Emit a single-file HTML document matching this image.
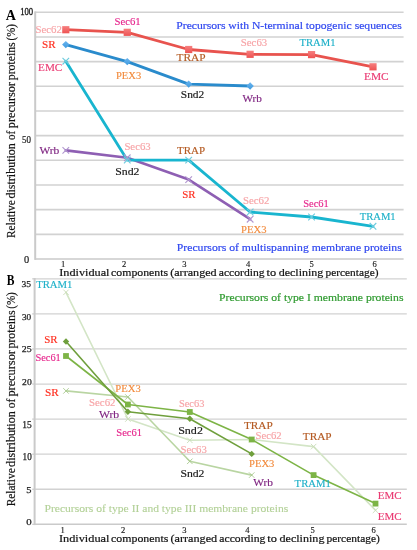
<!DOCTYPE html>
<html><head><meta charset="utf-8"><style>
html,body{margin:0;padding:0;background:#fff;}
svg{display:block;will-change:transform;}
text{font-family:"Liberation Serif", serif;}
</style></head><body>
<svg width="417" height="550" viewBox="0 0 417 550">
<defs>
<linearGradient id="gr" x1="0" y1="0" x2="0" y2="1"><stop offset="0" stop-color="#f68080"/><stop offset="1" stop-color="#ee5252"/></linearGradient>
<linearGradient id="gb" x1="0" y1="0" x2="0" y2="1"><stop offset="0" stop-color="#6ab4ee"/><stop offset="1" stop-color="#3f9be0"/></linearGradient>
</defs>
<rect width="417" height="550" fill="#fff"/>
<line x1="35.20" y1="234.33" x2="403.60" y2="234.33" stroke="#d2d2d2" stroke-width="1.6"/>
<line x1="35.20" y1="209.66" x2="403.60" y2="209.66" stroke="#d2d2d2" stroke-width="1.6"/>
<line x1="35.20" y1="184.99" x2="403.60" y2="184.99" stroke="#d2d2d2" stroke-width="1.6"/>
<line x1="35.20" y1="160.32" x2="403.60" y2="160.32" stroke="#d2d2d2" stroke-width="1.6"/>
<line x1="35.20" y1="135.65" x2="403.60" y2="135.65" stroke="#d2d2d2" stroke-width="1.6"/>
<line x1="35.20" y1="110.98" x2="403.60" y2="110.98" stroke="#d2d2d2" stroke-width="1.6"/>
<line x1="35.20" y1="86.31" x2="403.60" y2="86.31" stroke="#d2d2d2" stroke-width="1.6"/>
<line x1="35.20" y1="61.64" x2="403.60" y2="61.64" stroke="#d2d2d2" stroke-width="1.6"/>
<line x1="35.20" y1="36.97" x2="403.60" y2="36.97" stroke="#d2d2d2" stroke-width="1.6"/>
<line x1="35.20" y1="12.30" x2="403.60" y2="12.30" stroke="#d2d2d2" stroke-width="1.6"/>
<line x1="35.20" y1="259.00" x2="403.60" y2="259.00" stroke="#cacaca" stroke-width="1.7"/>
<line x1="35.20" y1="11.40" x2="35.20" y2="259.90" stroke="#cacaca" stroke-width="2"/>
<line x1="34.60" y1="489.23" x2="406.80" y2="489.23" stroke="#d2d2d2" stroke-width="1.3"/>
<line x1="34.60" y1="454.17" x2="406.80" y2="454.17" stroke="#d2d2d2" stroke-width="1.3"/>
<line x1="34.60" y1="419.10" x2="406.80" y2="419.10" stroke="#d2d2d2" stroke-width="1.3"/>
<line x1="34.60" y1="384.04" x2="406.80" y2="384.04" stroke="#d2d2d2" stroke-width="1.3"/>
<line x1="34.60" y1="348.97" x2="406.80" y2="348.97" stroke="#d2d2d2" stroke-width="1.3"/>
<line x1="34.60" y1="313.91" x2="406.80" y2="313.91" stroke="#d2d2d2" stroke-width="1.3"/>
<line x1="34.60" y1="278.84" x2="406.80" y2="278.84" stroke="#d2d2d2" stroke-width="1.3"/>
<line x1="34.60" y1="524.30" x2="406.80" y2="524.30" stroke="#cacaca" stroke-width="1.5"/>
<line x1="34.60" y1="278.04" x2="34.60" y2="525.10" stroke="#cacaca" stroke-width="2"/>
<polyline points="65.80,150.40 127.24,157.80 188.68,179.60 250.12,219.20" fill="none" stroke="#8e5fb3" stroke-width="2.6" stroke-linejoin="round" stroke-linecap="round"/>
<polyline points="65.80,61.20 127.24,160.00 188.68,160.10 250.12,212.00 311.56,217.00 373.00,226.30" fill="none" stroke="#19b5cf" stroke-width="2.8" stroke-linejoin="round" stroke-linecap="round"/>
<polyline points="65.80,44.60 127.24,61.60 188.68,84.10 250.12,86.00" fill="none" stroke="#2a8bcc" stroke-width="2.9" stroke-linejoin="round" stroke-linecap="round"/>
<polyline points="65.80,29.70 127.24,32.30 188.68,49.50 250.12,54.30 311.56,54.60 373.00,66.80" fill="none" stroke="#e8534e" stroke-width="2.8" stroke-linejoin="round" stroke-linecap="round"/>
<path d="M62.50,147.10L69.10,153.70M69.10,147.10L62.50,153.70" stroke="#b196cf" stroke-width="1.1" fill="none"/>
<path d="M123.94,154.50L130.54,161.10M130.54,154.50L123.94,161.10" stroke="#b196cf" stroke-width="1.1" fill="none"/>
<path d="M185.38,176.30L191.98,182.90M191.98,176.30L185.38,182.90" stroke="#b196cf" stroke-width="1.1" fill="none"/>
<path d="M246.82,215.90L253.42,222.50M253.42,215.90L246.82,222.50" stroke="#b196cf" stroke-width="1.1" fill="none"/>
<path d="M62.50,57.90L69.10,64.50M69.10,57.90L62.50,64.50" stroke="#6ccbdd" stroke-width="1.1" fill="none"/>
<path d="M123.94,156.70L130.54,163.30M130.54,156.70L123.94,163.30" stroke="#6ccbdd" stroke-width="1.1" fill="none"/>
<path d="M185.38,156.80L191.98,163.40M191.98,156.80L185.38,163.40" stroke="#6ccbdd" stroke-width="1.1" fill="none"/>
<path d="M246.82,208.70L253.42,215.30M253.42,208.70L246.82,215.30" stroke="#6ccbdd" stroke-width="1.1" fill="none"/>
<path d="M308.26,213.70L314.86,220.30M314.86,213.70L308.26,220.30" stroke="#6ccbdd" stroke-width="1.1" fill="none"/>
<path d="M369.70,223.00L376.30,229.60M376.30,223.00L369.70,229.60" stroke="#6ccbdd" stroke-width="1.1" fill="none"/>
<polygon points="65.80,40.90 69.50,44.60 65.80,48.30 62.10,44.60" fill="url(#gb)"/>
<polygon points="127.24,57.90 130.94,61.60 127.24,65.30 123.54,61.60" fill="url(#gb)"/>
<polygon points="188.68,80.40 192.38,84.10 188.68,87.80 184.98,84.10" fill="url(#gb)"/>
<polygon points="250.12,82.30 253.82,86.00 250.12,89.70 246.42,86.00" fill="url(#gb)"/>
<rect x="62.20" y="26.10" width="7.2" height="7.2" fill="url(#gr)"/>
<rect x="123.64" y="28.70" width="7.2" height="7.2" fill="url(#gr)"/>
<rect x="185.08" y="45.90" width="7.2" height="7.2" fill="url(#gr)"/>
<rect x="246.52" y="50.70" width="7.2" height="7.2" fill="url(#gr)"/>
<rect x="307.96" y="51.00" width="7.2" height="7.2" fill="url(#gr)"/>
<rect x="369.40" y="63.20" width="7.2" height="7.2" fill="url(#gr)"/>
<polyline points="66.00,292.30 127.90,419.00 189.80,440.30 251.70,439.50 313.60,446.60 375.50,510.30" fill="none" stroke="#d3e5c6" stroke-width="1.6" stroke-linejoin="round" stroke-linecap="round"/>
<polyline points="66.00,390.90 127.90,397.00 189.80,461.30 251.70,475.10" fill="none" stroke="#b9d5a2" stroke-width="1.6" stroke-linejoin="round" stroke-linecap="round"/>
<path d="M63.25,289.55L68.75,295.05M68.75,289.55L63.25,295.05" stroke="#c9dcb8" stroke-width="0.9" fill="none"/>
<path d="M125.15,416.25L130.65,421.75M130.65,416.25L125.15,421.75" stroke="#c9dcb8" stroke-width="0.9" fill="none"/>
<path d="M187.05,437.55L192.55,443.05M192.55,437.55L187.05,443.05" stroke="#c9dcb8" stroke-width="0.9" fill="none"/>
<path d="M248.95,436.75L254.45,442.25M254.45,436.75L248.95,442.25" stroke="#c9dcb8" stroke-width="0.9" fill="none"/>
<path d="M310.85,443.85L316.35,449.35M316.35,443.85L310.85,449.35" stroke="#c9dcb8" stroke-width="0.9" fill="none"/>
<path d="M372.75,507.55L378.25,513.05M378.25,507.55L372.75,513.05" stroke="#c9dcb8" stroke-width="0.9" fill="none"/>
<path d="M63.25,388.15L68.75,393.65M68.75,388.15L63.25,393.65" stroke="#a9c98f" stroke-width="0.9" fill="none"/>
<path d="M125.15,394.25L130.65,399.75M130.65,394.25L125.15,399.75" stroke="#a9c98f" stroke-width="0.9" fill="none"/>
<path d="M187.05,458.55L192.55,464.05M192.55,458.55L187.05,464.05" stroke="#a9c98f" stroke-width="0.9" fill="none"/>
<path d="M248.95,472.35L254.45,477.85M254.45,472.35L248.95,477.85" stroke="#a9c98f" stroke-width="0.9" fill="none"/>
<polyline points="66.00,356.00 127.90,404.50 189.80,412.00 251.70,439.50 313.60,475.10 375.50,503.60" fill="none" stroke="#7db446" stroke-width="1.6" stroke-linejoin="round" stroke-linecap="round"/>
<polyline points="66.00,341.50 127.90,411.70 189.80,418.70 251.70,453.90" fill="none" stroke="#6f9f3c" stroke-width="1.6" stroke-linejoin="round" stroke-linecap="round"/>
<rect x="63.10" y="353.10" width="5.8" height="5.8" fill="#7db446"/>
<rect x="125.00" y="401.60" width="5.8" height="5.8" fill="#7db446"/>
<rect x="186.90" y="409.10" width="5.8" height="5.8" fill="#7db446"/>
<rect x="248.80" y="436.60" width="5.8" height="5.8" fill="#7db446"/>
<rect x="310.70" y="472.20" width="5.8" height="5.8" fill="#7db446"/>
<rect x="372.60" y="500.70" width="5.8" height="5.8" fill="#7db446"/>
<polygon points="66.00,338.30 69.20,341.50 66.00,344.70 62.80,341.50" fill="#6f9f3c"/>
<polygon points="127.90,408.50 131.10,411.70 127.90,414.90 124.70,411.70" fill="#6f9f3c"/>
<polygon points="189.80,415.50 193.00,418.70 189.80,421.90 186.60,418.70" fill="#6f9f3c"/>
<polygon points="251.70,450.70 254.90,453.90 251.70,457.10 248.50,453.90" fill="#6f9f3c"/>
<text x="35.50" y="33.00" font-size="11.1" fill="#f7a3a6" font-family='"Liberation Serif", serif' font-weight="normal" text-anchor="start" textLength="26.40" lengthAdjust="spacingAndGlyphs" stroke="#f7a3a6" stroke-width="0.15">Sec62</text>
<text x="114.50" y="24.80" font-size="11.1" fill="#e6268c" font-family='"Liberation Serif", serif' font-weight="normal" text-anchor="start" textLength="26.20" lengthAdjust="spacingAndGlyphs" stroke="#e6268c" stroke-width="0.15">Sec61</text>
<text x="42.10" y="48.20" font-size="11.1" fill="#ff2b1c" font-family='"Liberation Serif", serif' font-weight="normal" text-anchor="start" textLength="13.60" lengthAdjust="spacingAndGlyphs" stroke="#ff2b1c" stroke-width="0.15">SR</text>
<text x="38.10" y="70.60" font-size="11.1" fill="#ea3b73" font-family='"Liberation Serif", serif' font-weight="normal" text-anchor="start" textLength="24.20" lengthAdjust="spacingAndGlyphs" stroke="#ea3b73" stroke-width="0.15">EMC</text>
<text x="116.00" y="79.00" font-size="11.1" fill="#f28b3d" font-family='"Liberation Serif", serif' font-weight="normal" text-anchor="start" textLength="25.20" lengthAdjust="spacingAndGlyphs" stroke="#f28b3d" stroke-width="0.15">PEX3</text>
<text x="176.50" y="60.80" font-size="11.1" fill="#b45a22" font-family='"Liberation Serif", serif' font-weight="normal" text-anchor="start" textLength="29.00" lengthAdjust="spacingAndGlyphs" stroke="#b45a22" stroke-width="0.15">TRAP</text>
<text x="180.80" y="98.00" font-size="10.8" fill="#141414" font-family='"Liberation Sans", sans-serif' font-weight="normal" text-anchor="start" textLength="23.50" lengthAdjust="spacingAndGlyphs" stroke="#141414" stroke-width="0.15">Snd2</text>
<text x="240.80" y="45.50" font-size="11.1" fill="#f7a3a6" font-family='"Liberation Serif", serif' font-weight="normal" text-anchor="start" textLength="26.40" lengthAdjust="spacingAndGlyphs" stroke="#f7a3a6" stroke-width="0.15">Sec63</text>
<text x="242.50" y="101.90" font-size="11.1" fill="#7c1f7e" font-family='"Liberation Serif", serif' font-weight="normal" text-anchor="start" textLength="19.40" lengthAdjust="spacingAndGlyphs" stroke="#7c1f7e" stroke-width="0.15">Wrb</text>
<text x="299.50" y="45.80" font-size="11.1" fill="#1fb1c9" font-family='"Liberation Serif", serif' font-weight="normal" text-anchor="start" textLength="36.00" lengthAdjust="spacingAndGlyphs" stroke="#1fb1c9" stroke-width="0.15">TRAM1</text>
<text x="363.90" y="79.60" font-size="11.1" fill="#ea3b73" font-family='"Liberation Serif", serif' font-weight="normal" text-anchor="start" textLength="24.80" lengthAdjust="spacingAndGlyphs" stroke="#ea3b73" stroke-width="0.15">EMC</text>
<text x="39.50" y="153.50" font-size="11.1" fill="#7c1f7e" font-family='"Liberation Serif", serif' font-weight="normal" text-anchor="start" textLength="19.80" lengthAdjust="spacingAndGlyphs" stroke="#7c1f7e" stroke-width="0.15">Wrb</text>
<text x="124.40" y="149.50" font-size="11.1" fill="#f7a3a6" font-family='"Liberation Serif", serif' font-weight="normal" text-anchor="start" textLength="26.30" lengthAdjust="spacingAndGlyphs" stroke="#f7a3a6" stroke-width="0.15">Sec63</text>
<text x="115.30" y="175.00" font-size="10.8" fill="#141414" font-family='"Liberation Sans", sans-serif' font-weight="normal" text-anchor="start" textLength="24.20" lengthAdjust="spacingAndGlyphs" stroke="#141414" stroke-width="0.15">Snd2</text>
<text x="177.10" y="154.40" font-size="11.1" fill="#b45a22" font-family='"Liberation Serif", serif' font-weight="normal" text-anchor="start" textLength="28.00" lengthAdjust="spacingAndGlyphs" stroke="#b45a22" stroke-width="0.15">TRAP</text>
<text x="182.20" y="197.90" font-size="11.1" fill="#ff2b1c" font-family='"Liberation Serif", serif' font-weight="normal" text-anchor="start" textLength="13.30" lengthAdjust="spacingAndGlyphs" stroke="#ff2b1c" stroke-width="0.15">SR</text>
<text x="242.90" y="203.70" font-size="11.1" fill="#f7a3a6" font-family='"Liberation Serif", serif' font-weight="normal" text-anchor="start" textLength="26.50" lengthAdjust="spacingAndGlyphs" stroke="#f7a3a6" stroke-width="0.15">Sec62</text>
<text x="241.00" y="232.50" font-size="11.1" fill="#f28b3d" font-family='"Liberation Serif", serif' font-weight="normal" text-anchor="start" textLength="25.50" lengthAdjust="spacingAndGlyphs" stroke="#f28b3d" stroke-width="0.15">PEX3</text>
<text x="303.20" y="207.00" font-size="11.1" fill="#e6268c" font-family='"Liberation Serif", serif' font-weight="normal" text-anchor="start" textLength="25.70" lengthAdjust="spacingAndGlyphs" stroke="#e6268c" stroke-width="0.15">Sec61</text>
<text x="359.70" y="220.40" font-size="11.1" fill="#1fb1c9" font-family='"Liberation Serif", serif' font-weight="normal" text-anchor="start" textLength="36.00" lengthAdjust="spacingAndGlyphs" stroke="#1fb1c9" stroke-width="0.15">TRAM1</text>
<text x="36.20" y="288.20" font-size="11.1" fill="#1fb1c9" font-family='"Liberation Serif", serif' font-weight="normal" text-anchor="start" textLength="36.30" lengthAdjust="spacingAndGlyphs" stroke="#1fb1c9" stroke-width="0.15">TRAM1</text>
<text x="44.30" y="342.80" font-size="11.1" fill="#ff2b1c" font-family='"Liberation Serif", serif' font-weight="normal" text-anchor="start" textLength="13.30" lengthAdjust="spacingAndGlyphs" stroke="#ff2b1c" stroke-width="0.15">SR</text>
<text x="35.40" y="360.70" font-size="11.1" fill="#e6268c" font-family='"Liberation Serif", serif' font-weight="normal" text-anchor="start" textLength="25.40" lengthAdjust="spacingAndGlyphs" stroke="#e6268c" stroke-width="0.15">Sec61</text>
<text x="45.10" y="395.90" font-size="11.1" fill="#ff2b1c" font-family='"Liberation Serif", serif' font-weight="normal" text-anchor="start" textLength="13.70" lengthAdjust="spacingAndGlyphs" stroke="#ff2b1c" stroke-width="0.15">SR</text>
<text x="115.30" y="392.00" font-size="11.1" fill="#f28b3d" font-family='"Liberation Serif", serif' font-weight="normal" text-anchor="start" textLength="25.50" lengthAdjust="spacingAndGlyphs" stroke="#f28b3d" stroke-width="0.15">PEX3</text>
<text x="89.00" y="406.00" font-size="11.1" fill="#f7a3a6" font-family='"Liberation Serif", serif' font-weight="normal" text-anchor="start" textLength="26.50" lengthAdjust="spacingAndGlyphs" stroke="#f7a3a6" stroke-width="0.15">Sec62</text>
<text x="99.00" y="417.50" font-size="11.1" fill="#7c1f7e" font-family='"Liberation Serif", serif' font-weight="normal" text-anchor="start" textLength="20.20" lengthAdjust="spacingAndGlyphs" stroke="#7c1f7e" stroke-width="0.15">Wrb</text>
<text x="116.30" y="435.70" font-size="11.1" fill="#e6268c" font-family='"Liberation Serif", serif' font-weight="normal" text-anchor="start" textLength="25.80" lengthAdjust="spacingAndGlyphs" stroke="#e6268c" stroke-width="0.15">Sec61</text>
<text x="178.90" y="406.50" font-size="11.1" fill="#f7a3a6" font-family='"Liberation Serif", serif' font-weight="normal" text-anchor="start" textLength="25.50" lengthAdjust="spacingAndGlyphs" stroke="#f7a3a6" stroke-width="0.15">Sec63</text>
<text x="178.20" y="433.80" font-size="10.8" fill="#141414" font-family='"Liberation Sans", sans-serif' font-weight="normal" text-anchor="start" textLength="24.70" lengthAdjust="spacingAndGlyphs" stroke="#141414" stroke-width="0.15">Snd2</text>
<text x="180.40" y="453.00" font-size="11.1" fill="#f7a3a6" font-family='"Liberation Serif", serif' font-weight="normal" text-anchor="start" textLength="26.40" lengthAdjust="spacingAndGlyphs" stroke="#f7a3a6" stroke-width="0.15">Sec63</text>
<text x="180.40" y="476.70" font-size="10.8" fill="#141414" font-family='"Liberation Sans", sans-serif' font-weight="normal" text-anchor="start" textLength="24.00" lengthAdjust="spacingAndGlyphs" stroke="#141414" stroke-width="0.15">Snd2</text>
<text x="243.90" y="429.40" font-size="11.1" fill="#b45a22" font-family='"Liberation Serif", serif' font-weight="normal" text-anchor="start" textLength="28.80" lengthAdjust="spacingAndGlyphs" stroke="#b45a22" stroke-width="0.15">TRAP</text>
<text x="255.50" y="438.50" font-size="11.1" fill="#f7a3a6" font-family='"Liberation Serif", serif' font-weight="normal" text-anchor="start" textLength="26.10" lengthAdjust="spacingAndGlyphs" stroke="#f7a3a6" stroke-width="0.15">Sec62</text>
<text x="249.00" y="466.80" font-size="11.1" fill="#f28b3d" font-family='"Liberation Serif", serif' font-weight="normal" text-anchor="start" textLength="25.40" lengthAdjust="spacingAndGlyphs" stroke="#f28b3d" stroke-width="0.15">PEX3</text>
<text x="253.30" y="485.60" font-size="11.1" fill="#7c1f7e" font-family='"Liberation Serif", serif' font-weight="normal" text-anchor="start" textLength="19.70" lengthAdjust="spacingAndGlyphs" stroke="#7c1f7e" stroke-width="0.15">Wrb</text>
<text x="302.80" y="440.10" font-size="11.1" fill="#b45a22" font-family='"Liberation Serif", serif' font-weight="normal" text-anchor="start" textLength="28.80" lengthAdjust="spacingAndGlyphs" stroke="#b45a22" stroke-width="0.15">TRAP</text>
<text x="294.60" y="487.00" font-size="11.1" fill="#1fb1c9" font-family='"Liberation Serif", serif' font-weight="normal" text-anchor="start" textLength="36.30" lengthAdjust="spacingAndGlyphs" stroke="#1fb1c9" stroke-width="0.15">TRAM1</text>
<text x="377.80" y="499.40" font-size="11.1" fill="#ea3b73" font-family='"Liberation Serif", serif' font-weight="normal" text-anchor="start" textLength="23.90" lengthAdjust="spacingAndGlyphs" stroke="#ea3b73" stroke-width="0.15">EMC</text>
<text x="377.80" y="520.40" font-size="11.1" fill="#ea3b73" font-family='"Liberation Serif", serif' font-weight="normal" text-anchor="start" textLength="23.90" lengthAdjust="spacingAndGlyphs" stroke="#ea3b73" stroke-width="0.15">EMC</text>
<text x="176.30" y="29.20" font-size="11.4" fill="#3048f0" font-family='"Liberation Serif", serif' font-weight="normal" text-anchor="start" textLength="225.50" lengthAdjust="spacingAndGlyphs" stroke="#3048f0" stroke-width="0.2">Precursors with N-terminal topogenic sequences</text>
<text x="176.80" y="250.80" font-size="11.4" fill="#3048f0" font-family='"Liberation Serif", serif' font-weight="normal" text-anchor="start" textLength="225.00" lengthAdjust="spacingAndGlyphs" stroke="#3048f0" stroke-width="0.2">Precursors of multispanning membrane proteins</text>
<text x="219.10" y="301.10" font-size="11.4" fill="#2f9b30" font-family='"Liberation Serif", serif' font-weight="normal" text-anchor="start" textLength="184.40" lengthAdjust="spacingAndGlyphs" stroke="#2f9b30" stroke-width="0.2">Precursors of type I membrane proteins</text>
<text x="44.50" y="512.30" font-size="11.4" fill="#b3d198" font-family='"Liberation Serif", serif' font-weight="normal" text-anchor="start" textLength="243.70" lengthAdjust="spacingAndGlyphs" stroke="#b3d198" stroke-width="0.12">Precursors of type II and type III membrane proteins</text>
<text x="5.70" y="19.70" font-size="14.5" fill="#000" font-family='"Liberation Serif", serif' font-weight="bold" text-anchor="start" textLength="10.20" lengthAdjust="spacingAndGlyphs">A</text>
<text x="6.70" y="284.60" font-size="14.5" fill="#000" font-family='"Liberation Serif", serif' font-weight="bold" text-anchor="start" textLength="7.70" lengthAdjust="spacingAndGlyphs">B</text>
<text x="20.20" y="14.50" font-size="9.9" fill="#1a1a1a" font-family='"Liberation Serif", serif' font-weight="normal" text-anchor="start" textLength="13.00" lengthAdjust="spacingAndGlyphs" stroke="#1a1a1a" stroke-width="0.3">100</text>
<text x="22.00" y="143.30" font-size="9.4" fill="#222" font-family='"Liberation Serif", serif' font-weight="normal" text-anchor="start" textLength="9.00" lengthAdjust="spacingAndGlyphs" stroke="#222" stroke-width="0.2">50</text>
<text x="24.00" y="262.90" font-size="10.2" fill="#222" font-family='"Liberation Serif", serif' font-weight="normal" text-anchor="start" textLength="5.20" lengthAdjust="spacingAndGlyphs" stroke="#222" stroke-width="0.2">0</text>
<text x="21.60" y="287.40" font-size="9.0" fill="#1e1e1e" font-family='"Liberation Sans", sans-serif' font-weight="normal" text-anchor="start" textLength="9.50" lengthAdjust="spacingAndGlyphs" stroke="#1e1e1e" stroke-width="0.25">35</text>
<text x="21.90" y="319.50" font-size="9.0" fill="#1e1e1e" font-family='"Liberation Sans", sans-serif' font-weight="normal" text-anchor="start" textLength="9.20" lengthAdjust="spacingAndGlyphs" stroke="#1e1e1e" stroke-width="0.25">30</text>
<text x="21.80" y="352.00" font-size="9.0" fill="#1e1e1e" font-family='"Liberation Sans", sans-serif' font-weight="normal" text-anchor="start" textLength="9.90" lengthAdjust="spacingAndGlyphs" stroke="#1e1e1e" stroke-width="0.25">25</text>
<text x="22.10" y="384.70" font-size="9.0" fill="#1e1e1e" font-family='"Liberation Sans", sans-serif' font-weight="normal" text-anchor="start" textLength="9.60" lengthAdjust="spacingAndGlyphs" stroke="#1e1e1e" stroke-width="0.25">20</text>
<text x="22.30" y="428.00" font-size="9.6" fill="#1e1e1e" font-family='"Liberation Serif", serif' font-weight="normal" text-anchor="start" textLength="9.40" lengthAdjust="spacingAndGlyphs" stroke="#1e1e1e" stroke-width="0.25">15</text>
<text x="22.60" y="460.40" font-size="9.4" fill="#1e1e1e" font-family='"Liberation Serif", serif' font-weight="normal" text-anchor="start" textLength="9.10" lengthAdjust="spacingAndGlyphs" stroke="#1e1e1e" stroke-width="0.25">10</text>
<text x="26.20" y="493.00" font-size="9.0" fill="#1e1e1e" font-family='"Liberation Serif", serif' font-weight="normal" text-anchor="start" textLength="5.20" lengthAdjust="spacingAndGlyphs" stroke="#1e1e1e" stroke-width="0.25">5</text>
<text x="26.20" y="524.90" font-size="8.6" fill="#1e1e1e" font-family='"Liberation Serif", serif' font-weight="normal" text-anchor="start" textLength="5.40" lengthAdjust="spacingAndGlyphs" stroke="#1e1e1e" stroke-width="0.25">0</text>
<line x1="32.20" y1="524.30" x2="34.60" y2="524.30" stroke="#cacaca" stroke-width="1.2"/>
<line x1="32.20" y1="489.23" x2="34.60" y2="489.23" stroke="#cacaca" stroke-width="1.2"/>
<line x1="32.20" y1="454.17" x2="34.60" y2="454.17" stroke="#cacaca" stroke-width="1.2"/>
<line x1="32.20" y1="419.10" x2="34.60" y2="419.10" stroke="#cacaca" stroke-width="1.2"/>
<line x1="32.20" y1="384.04" x2="34.60" y2="384.04" stroke="#cacaca" stroke-width="1.2"/>
<line x1="32.20" y1="348.97" x2="34.60" y2="348.97" stroke="#cacaca" stroke-width="1.2"/>
<line x1="32.20" y1="313.91" x2="34.60" y2="313.91" stroke="#cacaca" stroke-width="1.2"/>
<line x1="32.20" y1="278.84" x2="34.60" y2="278.84" stroke="#cacaca" stroke-width="1.2"/>
<text x="63.20" y="267.40" font-size="8.5" fill="#222" font-family='"Liberation Serif", serif' font-weight="normal" text-anchor="middle" stroke="#222" stroke-width="0.15">1</text>
<text x="124.00" y="267.40" font-size="8.5" fill="#222" font-family='"Liberation Serif", serif' font-weight="normal" text-anchor="middle" stroke="#222" stroke-width="0.15">2</text>
<text x="184.40" y="267.40" font-size="8.5" fill="#222" font-family='"Liberation Serif", serif' font-weight="normal" text-anchor="middle" stroke="#222" stroke-width="0.15">3</text>
<text x="248.00" y="267.40" font-size="8.5" fill="#222" font-family='"Liberation Serif", serif' font-weight="normal" text-anchor="middle" stroke="#222" stroke-width="0.15">4</text>
<text x="311.50" y="267.40" font-size="8.5" fill="#222" font-family='"Liberation Serif", serif' font-weight="normal" text-anchor="middle" stroke="#222" stroke-width="0.15">5</text>
<text x="374.70" y="267.40" font-size="8.5" fill="#222" font-family='"Liberation Serif", serif' font-weight="normal" text-anchor="middle" stroke="#222" stroke-width="0.15">6</text>
<text x="62.60" y="532.80" font-size="8.5" fill="#222" font-family='"Liberation Serif", serif' font-weight="normal" text-anchor="middle" stroke="#222" stroke-width="0.15">1</text>
<text x="123.00" y="532.80" font-size="8.5" fill="#222" font-family='"Liberation Serif", serif' font-weight="normal" text-anchor="middle" stroke="#222" stroke-width="0.15">2</text>
<text x="184.40" y="532.80" font-size="8.5" fill="#222" font-family='"Liberation Serif", serif' font-weight="normal" text-anchor="middle" stroke="#222" stroke-width="0.15">3</text>
<text x="247.40" y="532.80" font-size="8.5" fill="#222" font-family='"Liberation Serif", serif' font-weight="normal" text-anchor="middle" stroke="#222" stroke-width="0.15">4</text>
<text x="312.60" y="532.80" font-size="8.5" fill="#222" font-family='"Liberation Serif", serif' font-weight="normal" text-anchor="middle" stroke="#222" stroke-width="0.15">5</text>
<text x="373.50" y="532.80" font-size="8.5" fill="#222" font-family='"Liberation Serif", serif' font-weight="normal" text-anchor="middle" stroke="#222" stroke-width="0.15">6</text>
<text x="59.20" y="276.00" font-size="11.3" fill="#111" font-family='"Liberation Serif", serif' font-weight="normal" text-anchor="start" textLength="50.30" lengthAdjust="spacingAndGlyphs" stroke="#111" stroke-width="0.2">Individual</text>
<text x="111.10" y="276.00" font-size="11.3" fill="#111" font-family='"Liberation Serif", serif' font-weight="normal" text-anchor="start" textLength="57.00" lengthAdjust="spacingAndGlyphs" stroke="#111" stroke-width="0.2">components</text>
<text x="170.20" y="276.00" font-size="11.3" fill="#111" font-family='"Liberation Serif", serif' font-weight="normal" text-anchor="start" textLength="46.50" lengthAdjust="spacingAndGlyphs" stroke="#111" stroke-width="0.2">(arranged</text>
<text x="218.80" y="276.00" font-size="11.3" fill="#111" font-family='"Liberation Serif", serif' font-weight="normal" text-anchor="start" textLength="45.80" lengthAdjust="spacingAndGlyphs" stroke="#111" stroke-width="0.2">according</text>
<text x="266.50" y="276.00" font-size="11.3" fill="#111" font-family='"Liberation Serif", serif' font-weight="normal" text-anchor="start" textLength="9.60" lengthAdjust="spacingAndGlyphs" stroke="#111" stroke-width="0.2">to</text>
<text x="278.70" y="276.00" font-size="11.3" fill="#111" font-family='"Liberation Serif", serif' font-weight="normal" text-anchor="start" textLength="44.70" lengthAdjust="spacingAndGlyphs" stroke="#111" stroke-width="0.2">declining</text>
<text x="325.50" y="276.00" font-size="11.3" fill="#111" font-family='"Liberation Serif", serif' font-weight="normal" text-anchor="start" textLength="53.00" lengthAdjust="spacingAndGlyphs" stroke="#111" stroke-width="0.2">percentage)</text>
<text x="58.90" y="542.40" font-size="11.3" fill="#111" font-family='"Liberation Serif", serif' font-weight="normal" text-anchor="start" textLength="50.55" lengthAdjust="spacingAndGlyphs" stroke="#111" stroke-width="0.2">Individual</text>
<text x="111.06" y="542.40" font-size="11.3" fill="#111" font-family='"Liberation Serif", serif' font-weight="normal" text-anchor="start" textLength="57.28" lengthAdjust="spacingAndGlyphs" stroke="#111" stroke-width="0.2">components</text>
<text x="170.46" y="542.40" font-size="11.3" fill="#111" font-family='"Liberation Serif", serif' font-weight="normal" text-anchor="start" textLength="46.73" lengthAdjust="spacingAndGlyphs" stroke="#111" stroke-width="0.2">(arranged</text>
<text x="219.30" y="542.40" font-size="11.3" fill="#111" font-family='"Liberation Serif", serif' font-weight="normal" text-anchor="start" textLength="46.03" lengthAdjust="spacingAndGlyphs" stroke="#111" stroke-width="0.2">according</text>
<text x="267.24" y="542.40" font-size="11.3" fill="#111" font-family='"Liberation Serif", serif' font-weight="normal" text-anchor="start" textLength="9.64" lengthAdjust="spacingAndGlyphs" stroke="#111" stroke-width="0.2">to</text>
<text x="279.50" y="542.40" font-size="11.3" fill="#111" font-family='"Liberation Serif", serif' font-weight="normal" text-anchor="start" textLength="44.92" lengthAdjust="spacingAndGlyphs" stroke="#111" stroke-width="0.2">declining</text>
<text x="326.54" y="542.40" font-size="11.3" fill="#111" font-family='"Liberation Serif", serif' font-weight="normal" text-anchor="start" textLength="53.26" lengthAdjust="spacingAndGlyphs" stroke="#111" stroke-width="0.2">percentage)</text>
<text x="0.00" y="0.00" font-size="11.5" fill="#111" font-family='"Liberation Serif", serif' font-weight="normal" text-anchor="start" textLength="37.60" lengthAdjust="spacingAndGlyphs" stroke="#111" stroke-width="0.18" transform="translate(14.6,237.90) rotate(-90)">Relative</text>
<text x="0.00" y="0.00" font-size="11.5" fill="#111" font-family='"Liberation Serif", serif' font-weight="normal" text-anchor="start" textLength="55.30" lengthAdjust="spacingAndGlyphs" stroke="#111" stroke-width="0.18" transform="translate(14.6,198.50) rotate(-90)">distribution</text>
<text x="0.00" y="0.00" font-size="11.5" fill="#111" font-family='"Liberation Serif", serif' font-weight="normal" text-anchor="start" textLength="9.20" lengthAdjust="spacingAndGlyphs" stroke="#111" stroke-width="0.18" transform="translate(14.6,139.90) rotate(-90)">of</text>
<text x="0.00" y="0.00" font-size="11.5" fill="#111" font-family='"Liberation Serif", serif' font-weight="normal" text-anchor="start" textLength="46.10" lengthAdjust="spacingAndGlyphs" stroke="#111" stroke-width="0.18" transform="translate(14.6,128.20) rotate(-90)">precursor</text>
<text x="0.00" y="0.00" font-size="11.5" fill="#111" font-family='"Liberation Serif", serif' font-weight="normal" text-anchor="start" textLength="37.90" lengthAdjust="spacingAndGlyphs" stroke="#111" stroke-width="0.18" transform="translate(14.6,80.20) rotate(-90)">proteins</text>
<text x="0.00" y="0.00" font-size="11.5" fill="#111" font-family='"Liberation Serif", serif' font-weight="normal" text-anchor="start" textLength="16.20" lengthAdjust="spacingAndGlyphs" stroke="#111" stroke-width="0.18" transform="translate(14.6,40.40) rotate(-90)">(%)</text>
<text x="0.00" y="0.00" font-size="11.5" fill="#111" font-family='"Liberation Serif", serif' font-weight="normal" text-anchor="start" textLength="38.00" lengthAdjust="spacingAndGlyphs" stroke="#111" stroke-width="0.18" transform="translate(15.2,506.30) rotate(-90)">Relative</text>
<text x="0.00" y="0.00" font-size="11.5" fill="#111" font-family='"Liberation Serif", serif' font-weight="normal" text-anchor="start" textLength="55.70" lengthAdjust="spacingAndGlyphs" stroke="#111" stroke-width="0.18" transform="translate(15.2,466.90) rotate(-90)">distribution</text>
<text x="0.00" y="0.00" font-size="11.5" fill="#111" font-family='"Liberation Serif", serif' font-weight="normal" text-anchor="start" textLength="9.60" lengthAdjust="spacingAndGlyphs" stroke="#111" stroke-width="0.18" transform="translate(15.2,408.30) rotate(-90)">of</text>
<text x="0.00" y="0.00" font-size="11.5" fill="#111" font-family='"Liberation Serif", serif' font-weight="normal" text-anchor="start" textLength="46.50" lengthAdjust="spacingAndGlyphs" stroke="#111" stroke-width="0.18" transform="translate(15.2,396.60) rotate(-90)">precursor</text>
<text x="0.00" y="0.00" font-size="11.5" fill="#111" font-family='"Liberation Serif", serif' font-weight="normal" text-anchor="start" textLength="38.30" lengthAdjust="spacingAndGlyphs" stroke="#111" stroke-width="0.18" transform="translate(15.2,348.60) rotate(-90)">proteins</text>
<text x="0.00" y="0.00" font-size="11.5" fill="#111" font-family='"Liberation Serif", serif' font-weight="normal" text-anchor="start" textLength="16.60" lengthAdjust="spacingAndGlyphs" stroke="#111" stroke-width="0.18" transform="translate(15.2,308.80) rotate(-90)">(%)</text>
</svg>
</body></html>
